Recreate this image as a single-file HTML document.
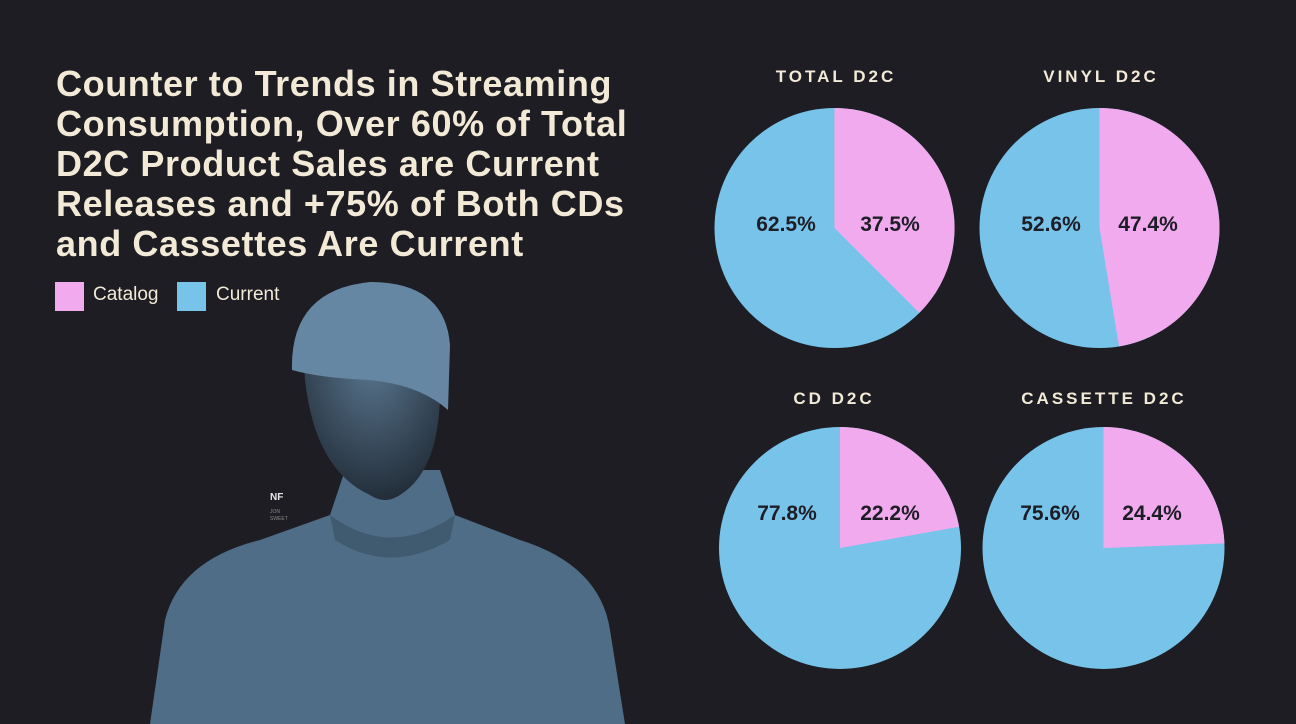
<!DOCTYPE html>
<html><head><meta charset="utf-8"><style>
html,body{margin:0;padding:0;background:#1d1d23;}
body{width:1296px;height:724px;position:relative;overflow:hidden;font-family:"Liberation Sans",sans-serif;}
.t{position:absolute;left:56px;top:64px;color:#f2ead7;font-weight:bold;font-size:36px;line-height:40px;letter-spacing:0.6px;}
.lg{position:absolute;top:282px;width:29px;height:29px;}
.lt{position:absolute;top:284px;color:#f2ead7;font-size:19px;}
</style></head><body>
<svg width="1296" height="724" style="position:absolute;left:0;top:0">
<defs><radialGradient id="g" cx="0.5" cy="0.3" r="0.7"><stop offset="0" stop-color="#5a7790"/><stop offset="1" stop-color="#232e3a"/></radialGradient></defs>
<path d="M150 724 L165 620 Q180 560 260 540 L330 515 L345 470 L440 470 L455 515 L520 540 Q600 565 610 630 L625 724 Z" fill="#4f6d87"/>
<path d="M330 515 Q390 560 455 515 L450 540 Q390 575 335 540 Z" fill="#405a70"/>
<path d="M305 380 Q300 330 330 300 L420 300 Q445 330 440 390 Q440 470 400 495 Q385 505 370 495 Q315 470 305 380 Z" fill="url(#g)"/>
<path d="M292 370 Q290 290 370 282 Q445 282 450 345 L448 410 Q420 385 370 380 Q320 378 292 370 Z" fill="#6687a3"/>
<text x="270" y="500" fill="#e8e8e8" font-size="10" font-weight="bold">NF</text>
<text x="270" y="513" fill="#8a8a8a" font-size="5">JON</text>
<text x="270" y="520" fill="#8a8a8a" font-size="5">SWEET</text>
<circle cx="834.5" cy="228" r="120" fill="#77c3ea"/>
<path d="M834.5 228 L834.5 108 A120 120 0 0 1 919.4 312.9 Z" fill="#f1aaee"/>
<circle cx="1099.5" cy="228" r="120" fill="#77c3ea"/>
<path d="M1099.5 228 L1099.5 108 A120 120 0 0 1 1119 346.4 Z" fill="#f1aaee"/>
<circle cx="840" cy="548" r="121" fill="#77c3ea"/>
<path d="M840 548 L840 427 A121 121 0 0 1 959.1 526.8 Z" fill="#f1aaee"/>
<circle cx="1103.5" cy="548" r="121" fill="#77c3ea"/>
<path d="M1103.5 548 L1103.5 427 A121 121 0 0 1 1224.4 543.4 Z" fill="#f1aaee"/>
<g font-family="Liberation Sans,sans-serif" font-weight="bold" font-size="21" fill="#1d1d26" text-anchor="middle">
<text x="786" y="231">62.5%</text><text x="890" y="231">37.5%</text>
<text x="1051" y="231">52.6%</text><text x="1148" y="231">47.4%</text>
<text x="787" y="520">77.8%</text><text x="890" y="520">22.2%</text>
<text x="1050" y="520">75.6%</text><text x="1152" y="520">24.4%</text>
</g>
<g font-family="Liberation Sans,sans-serif" font-weight="bold" font-size="17" fill="#f2ead7" text-anchor="middle" letter-spacing="3">
<text x="836" y="82">TOTAL D2C</text><text x="1101" y="82">VINYL D2C</text>
<text x="834" y="404">CD D2C</text><text x="1104" y="404">CASSETTE D2C</text>
</g>
</svg>
<div class="t">Counter to Trends in Streaming<br>Consumption, Over 60% of Total<br>D2C Product Sales are Current<br>Releases and +75% of Both CDs<br>and Cassettes Are Current</div>
<div class="lg" style="left:55px;background:#f1aaee"></div><div class="lt" style="left:93px">Catalog</div>
<div class="lg" style="left:177px;background:#77c3ea"></div><div class="lt" style="left:216px">Current</div>
</body></html>
